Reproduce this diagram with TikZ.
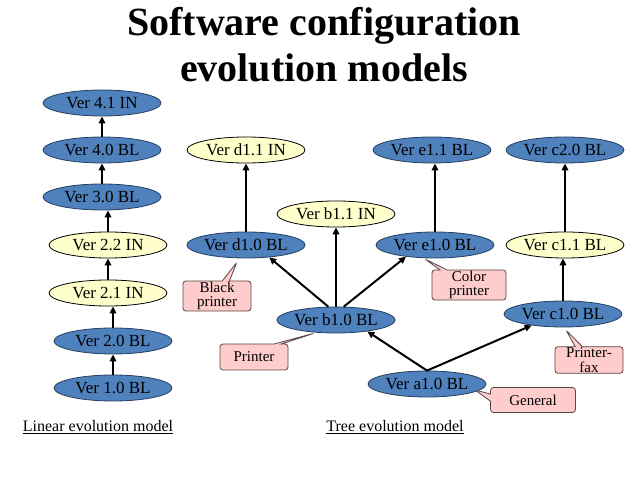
\documentclass[tikz,border=0pt]{standalone}
\usepackage{fontspec}
\setmainfont{Liberation Serif}
\usetikzlibrary{shapes.geometric,shapes.callouts,arrows.meta}
\definecolor{blfill}{RGB}{79,129,189}
\definecolor{blline}{RGB}{36,63,96}
\definecolor{infill}{RGB}{255,255,204}
\definecolor{notefill}{RGB}{255,204,204}
\definecolor{noteline}{RGB}{90,70,70}

\begin{document}
\begin{tikzpicture}[x=1pt,y=-1pt,->,>={Triangle[length=7pt,width=6.5pt]},line width=2pt]
    \tikzstyle{version}=[ellipse,draw,line width=0.8pt,minimum width=118pt,minimum height=26pt,inner sep=0pt,font=\fontsize{17}{17}\selectfont]
    \tikzstyle{bl version}=[version,fill=blfill,draw=blline]
    \tikzstyle{in version}=[version,fill=infill,draw=black]
    \tikzstyle{note}=[rectangle callout,rounded corners=3pt,draw=noteline,fill=notefill,line width=0.8pt,align=center,inner xsep=2pt,inner ysep=1pt,minimum width=68pt,minimum height=26pt,font=\fontsize{15}{14.5}\selectfont]
    \tikzstyle{annot}=[font=\fontsize{16}{16}\selectfont]

    \useasboundingbox (0,0) rectangle (638,478);

    % Title
    \node[font=\fontsize{40}{46}\selectfont\bfseries,align=center] (title) at (324,45) {Software configuration\\evolution models};

    % Draw the linear model nodes
    \foreach \name/\x/\y/\kind/\ver in {1/113/388/bl version/1.0 BL, 2/113/341/bl version/2.0 BL,
        3/108/293/in version/2.1 IN, 4/108/245/in version/2.2 IN, 5/102/197/bl version/3.0 BL,
        6/102/150/bl version/4.0 BL, 7/102/103/bl version/4.1 IN}
        \node[\kind] (L-\name) at (\x,\y) {Ver \ver};

    % Connect the linear model
    \foreach \source/\dest in {1/2,2/3,3/4,4/5,5/6,6/7}
        \draw (L-\source.north) -- (L-\source.north |- L-\dest.south);

    % Draw the tree model nodes
    \node[bl version] (a10) at (427,384) {Ver a1.0 BL};
    \node[bl version] (b10) at (336,320) {Ver b1.0 BL};
    \node[in version] (b11) at (336,214) {Ver b1.1 IN};
    \node[bl version] (d10) at (246,245) {Ver d1.0 BL};
    \node[in version] (d11) at (246,150) {Ver d1.1 IN};
    \node[bl version] (e10) at (435,245) {Ver e1.0 BL};
    \node[bl version] (e11) at (432,150) {Ver e1.1 BL};
    \node[bl version] (c10) at (563,314) {Ver c1.0 BL};
    \node[in version] (c11) at (565,245) {Ver c1.1 BL};
    \node[bl version] (c20) at (565,150) {Ver c2.0 BL};

    % Connect the tree model
    \draw (a10.north) -- (b10.-20);
    \draw (a10.north) -- (c10.200);
    \draw (b10.120) -- (d10.-28);
    \draw (b10.60) -- (e10.202);
    \foreach \source/\dest in {b10/b11,d10/d11,e10/e11,c10/c11,c11/c20}
        \draw (\source.north) -- (\source.north |- \dest.south);

    % Annotate the branches
    \node[note,callout absolute pointer={(237,262)}] (black) at (217,296) {Black\\printer};
    \node[note,callout absolute pointer={(315,333)}] (printer) at (254,357) {Printer};
    \node[note,minimum width=74pt,callout absolute pointer={(425,259)}] (color) at (469,285) {Color\\printer};
    \node[note,callout absolute pointer={(566,330)}] (fax) at (589,360) {Printer-\\fax};
    \node[note,minimum width=85pt,minimum height=25pt,callout absolute pointer={(475,390)}] (general) at (533,400) {General};

    % Name the models
    \node[annot] (linear) at (98,427) {\underline{Linear evolution model}};
    \node[annot] (tree) at (395,427) {\underline{Tree evolution model}};
\end{tikzpicture}
\end{document}
